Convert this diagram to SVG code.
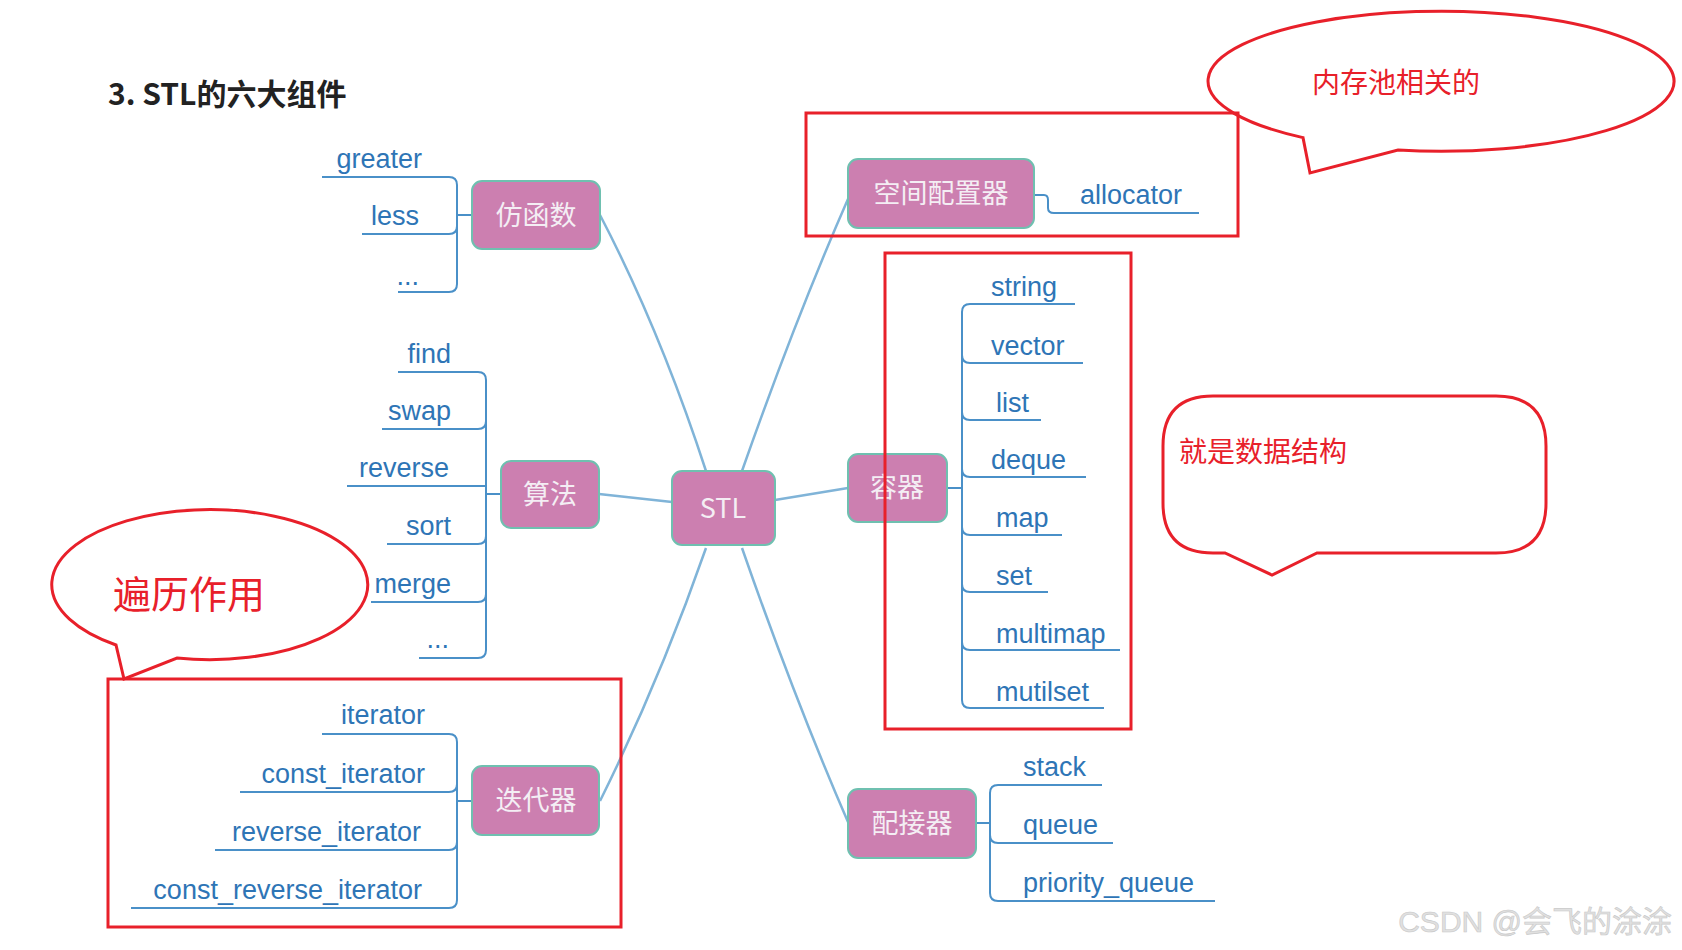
<svg xmlns="http://www.w3.org/2000/svg" width="1682" height="950" viewBox="0 0 1682 950">
<style>
.n{fill:#cc7fb0;stroke:#6fc0b0;stroke-width:2}
.nt{font-family:"Noto Sans CJK SC","Liberation Sans",sans-serif;font-size:27px;fill:#f4eef4;text-anchor:middle}
.it{font-family:"Liberation Sans","Noto Sans",sans-serif;font-size:27px;fill:#2e75b6}
.r{text-anchor:end}
.ln{fill:none;stroke:#4a90c8;stroke-width:2}
.c{fill:none;stroke:#80b4d8;stroke-width:2.5}
.red{fill:none;stroke:#e8202a;stroke-width:3}
.rt{font-family:"Noto Sans CJK SC",sans-serif;fill:#e8202a}
</style>
<rect width="1682" height="950" fill="#fff"/>
<text x="108" y="105" font-family="Noto Sans CJK SC,sans-serif" font-weight="bold" font-size="30" fill="#222">3. STL的六大组件</text>
<g id="connectors">
<path class="c" d="M706,471 Q660,330 600,215"/>
<path class="c" d="M672,502 L599,494"/>
<path class="c" d="M706,548 Q660,680 600,801"/>
<path class="c" d="M742,471 Q795,320 848,199"/>
<path class="c" d="M775,500 L848,488"/>
<path class="c" d="M742,548 Q795,700 848,822"/>
</g>
<g id="stl"><rect class="n" x="672" y="471" width="103" height="74" rx="10"/><text class="nt" x="723" y="518" font-family="Liberation Sans,sans-serif">STL</text></g>
<g id="functor">
<path class="ln" d="M322,177 H449 Q457,177 457,185 V284 Q457,292 449,292 H398 M362,234 H449 Q457,234 457,226 M457,215 H472"/>
<text class="it r" x="422" y="168">greater</text><text class="it r" x="419" y="225">less</text><text class="it r" x="419" y="285">...</text>
<rect class="n" x="472" y="181" width="128" height="68" rx="10"/><text class="nt" x="536" y="225">仿函数</text></g>
<g id="algo">
<path class="ln" d="M398,372 H478 Q486,372 486,380 V650 Q486,658 478,658 H419 M382,429 H478 Q486,429 486,421 M347,486 H486 M387,544 H478 Q486,544 486,536 M371,602 H478 Q486,602 486,594 M486,494 H501"/>
<text class="it r" x="451" y="363">find</text><text class="it r" x="451" y="420">swap</text><text class="it r" x="449" y="477">reverse</text><text class="it r" x="451" y="535">sort</text><text class="it r" x="451" y="593">merge</text><text class="it r" x="449" y="648">...</text>
<rect class="n" x="501" y="461" width="98" height="67" rx="10"/><text class="nt" x="550" y="504">算法</text></g>
<g id="iter">
<path class="ln" d="M322,734 H449 Q457,734 457,742 V900 Q457,908 449,908 H131 M240,792 H449 Q457,792 457,784 M215,850 H449 Q457,850 457,842 M457,801 H472"/>
<text class="it r" x="425" y="724">iterator</text><text class="it r" x="425" y="783">const_iterator</text><text class="it r" x="421" y="841">reverse_iterator</text><text class="it r" x="422" y="899">const_reverse_iterator</text>
<rect class="n" x="472" y="766" width="127" height="69" rx="10"/><text class="nt" x="536" y="810">迭代器</text></g>
<g id="alloc">
<path class="ln" d="M1034,195 H1044 Q1048,195 1048,200 V208 Q1048,213 1054,213 H1199"/>
<text class="it" x="1080" y="204">allocator</text>
<rect class="n" x="848" y="159" width="186" height="69" rx="10"/><text class="nt" x="941" y="203">空间配置器</text></g>
<g id="cont">
<path class="ln" d="M947,488 H962 M1075,304 H970 Q962,304 962,312 V700 Q962,708 970,708 H1104 M962,355 Q962,363 970,363 H1083 M962,412 Q962,420 970,420 H1041 M962,469 Q962,477 970,477 H1086 M962,527 Q962,535 970,535 H1062 M962,584 Q962,592 970,592 H1048 M962,642 Q962,650 970,650 H1120"/>
<text class="it" x="991" y="296">string</text><text class="it" x="991" y="355">vector</text><text class="it" x="996" y="412">list</text><text class="it" x="991" y="469">deque</text><text class="it" x="996" y="527">map</text><text class="it" x="996" y="585">set</text><text class="it" x="996" y="643">multimap</text><text class="it" x="996" y="701">mutilset</text>
<rect class="n" x="848" y="454" width="99" height="68" rx="10"/><text class="nt" x="897" y="497">容器</text></g>
<g id="adapt">
<path class="ln" d="M976,823 H990 M1102,785 H998 Q990,785 990,793 V893 Q990,901 998,901 H1215 M990,835 Q990,843 998,843 H1113"/>
<text class="it" x="1023" y="776">stack</text><text class="it" x="1023" y="834">queue</text><text class="it" x="1023" y="892">priority_queue</text>
<rect class="n" x="848" y="789" width="128" height="69" rx="10"/><text class="nt" x="912" y="833">配接器</text></g>
<g id="notes">
<rect class="red" x="806" y="113" width="432" height="123"/>
<rect class="red" x="885" y="253" width="246" height="476"/>
<rect class="red" x="108" y="679" width="513" height="248"/>
<path class="red" d="M1303,137.6 L1310,173 L1398,150 A233,70 0 1 0 1303,137.6 Z"/>
<path class="red" d="M1225,553 H1213 Q1163,553 1163,503 V446 Q1163,396 1213,396 H1496 Q1546,396 1546,446 V503 Q1546,553 1496,553 H1317 L1272,575 Z"/>
<path class="red" d="M177,658 A158,75 0 1 0 116,645 L124,679 Z"/>
<text class="rt" x="1312" y="93" font-size="28">内存池相关的</text>
<text class="rt" x="1179" y="462" font-size="28">就是数据结构</text>
<text class="rt" x="113" y="608" font-size="38">遍历作用</text>
</g>
<text x="1672" y="932" text-anchor="end" font-family="Liberation Sans,Noto Sans CJK SC,sans-serif" font-size="30" fill="#e0e0e0" stroke="#c8c8c8" stroke-width="0.6">CSDN @会飞的涂涂</text>
</svg>
